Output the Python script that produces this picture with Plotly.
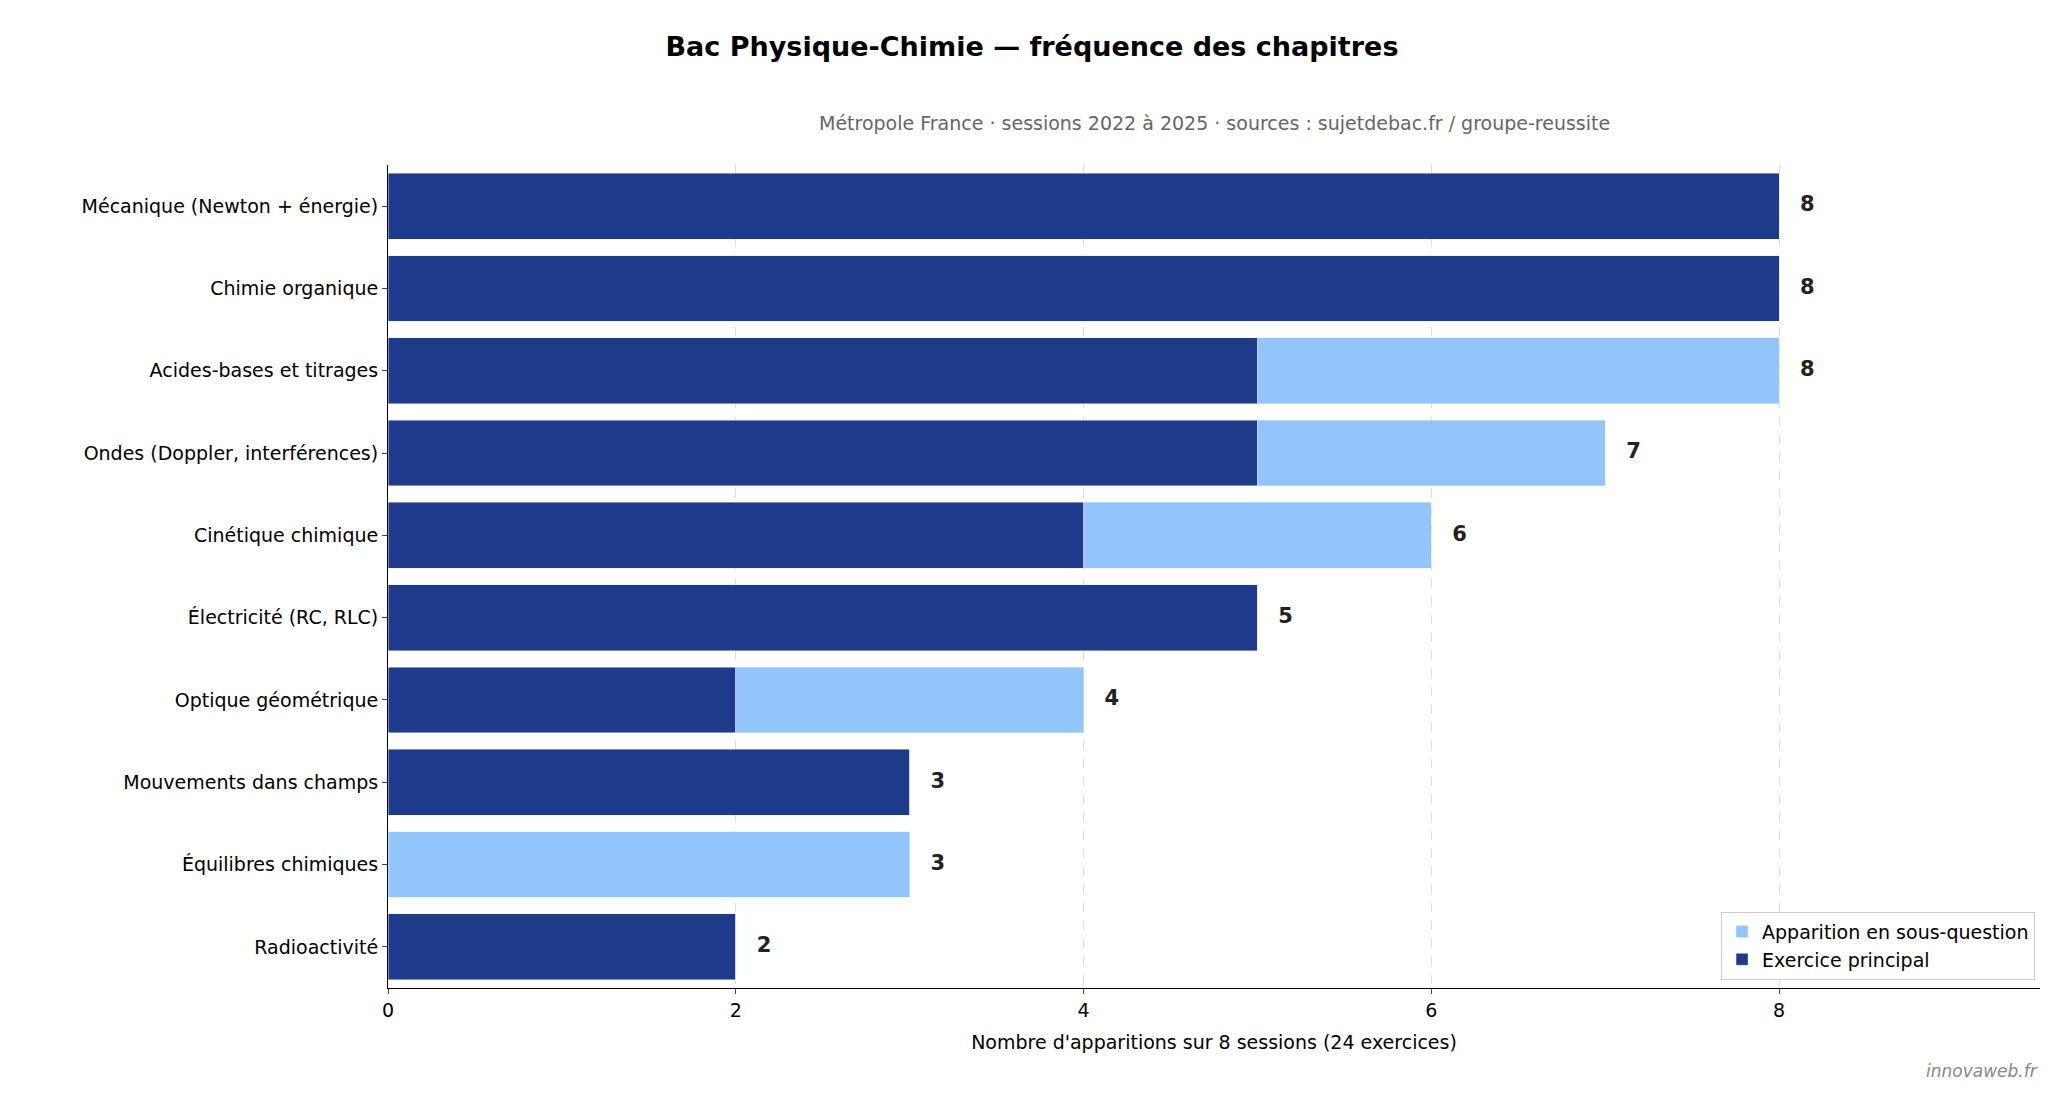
import plotly.graph_objects as go

chapitres = ["Mécanique (Newton + énergie)", "Chimie organique", "Acides-bases et titrages",
             "Ondes (Doppler, interférences)", "Cinétique chimique", "Électricité (RC, RLC)",
             "Optique géométrique", "Mouvements dans champs", "Équilibres chimiques", "Radioactivité"]
principal = [8, 8, 5, 5, 4, 5, 2, 3, 0, 2]
sous_question = [0, 0, 3, 2, 2, 0, 2, 0, 3, 0]
totaux = [p + s for p, s in zip(principal, sous_question)]

font = "DejaVu Sans"
fig = go.Figure()
fig.add_trace(go.Bar(y=chapitres, x=principal, orientation="h", name="Exercice principal",
                     marker_color="#1e3a8a", width=0.8))
fig.add_trace(go.Bar(y=chapitres, x=sous_question, orientation="h", name="Apparition en sous-question",
                     marker_color="#93c5fd", width=0.8))
fig.add_trace(go.Scatter(y=chapitres, x=[t + 0.12 for t in totaux], mode="text",
                         text=[str(t) for t in totaux], textposition="middle right",
                         textfont=dict(size=21, color="#222", family=font, weight="bold"),
                         showlegend=False, hoverinfo="skip"))

fig.update_layout(
    width=2048, height=1094, barmode="stack", plot_bgcolor="white", paper_bgcolor="white",
    font=dict(family=font, size=19, color="black"),
    margin=dict(l=380, r=16, t=157, b=114),
    title=dict(text="<b>Bac Physique-Chimie — fréquence des chapitres</b>", x=0.5, y=0.973,
               xanchor="center", font=dict(size=27)),
    xaxis=dict(range=[0, 9.5], dtick=2, showgrid=True, gridcolor="#dddddd", griddash="dash",
               showline=True, linecolor="black", ticks="outside", zeroline=False,
               title=dict(text="Nombre d'apparitions sur 8 sessions (24 exercices)", font=dict(size=19))),
    yaxis=dict(autorange="reversed", showline=True, linecolor="black", ticks="outside",
               range=None),
    legend=dict(x=0.997, y=0.01, xanchor="right", yanchor="bottom", bordercolor="#cccccc",
                borderwidth=1, bgcolor="white", font=dict(size=19)),
    annotations=[
        dict(text="Métropole France · sessions 2022 à 2025 · sources : sujetdebac.fr / groupe-reussite",
             xref="paper", yref="paper", x=0.5, y=1.035, yanchor="bottom", showarrow=False,
             font=dict(size=19, color="#666")),
        dict(text="<i>innovaweb.fr</i>", xref="paper", yref="paper", x=1, y=-0.115,
             xanchor="right", showarrow=False, font=dict(size=17, color="#888")),
    ],
)
fig.write_html("out.html")
